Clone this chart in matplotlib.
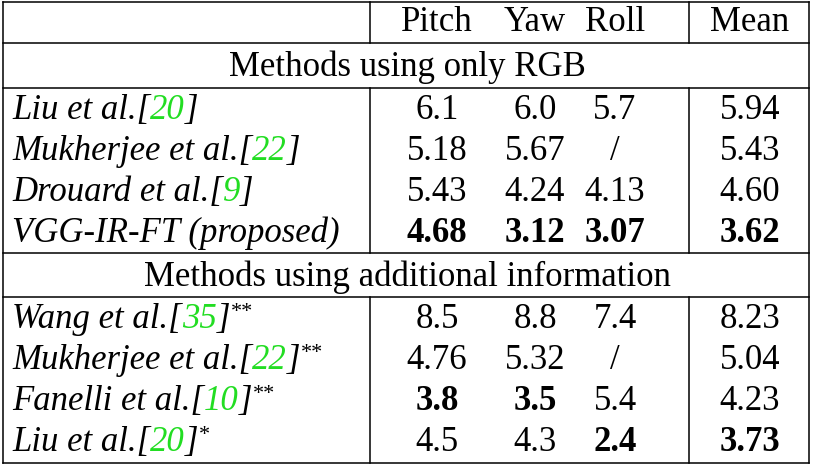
import matplotlib
matplotlib.use("Agg")
import matplotlib.pyplot as plt

columns = ["Pitch", "Yaw", "Roll", "Mean"]
section1 = "Methods using only RGB"
section2 = "Methods using additional information"
# name parts: (prefix, citation, suffix, superscript)
names1 = [("Liu et al.[", "20", "]", ""), ("Mukherjee et al.[", "22", "]", ""),
          ("Drouard et al.[", "9", "]", ""), ("VGG-IR-FT (proposed)", "", "", "")]
vals1 = [["6.1", "6.0", "5.7", "5.94"], ["5.18", "5.67", "/", "5.43"],
         ["5.43", "4.24", "4.13", "4.60"], ["4.68", "3.12", "3.07", "3.62"]]
bold1 = [[0,0,0,0],[0,0,0,0],[0,0,0,0],[1,1,1,1]]
names2 = [("Wang et al.[", "35", "]", "**"), ("Mukherjee et al.[", "22", "]", "**"),
          ("Fanelli et al.[", "10", "]", "**"), ("Liu et al.[", "20", "]", "*")]
vals2 = [["8.5", "8.8", "7.4", "8.23"], ["4.76", "5.32", "/", "5.04"],
         ["3.8", "3.5", "5.4", "4.23"], ["4.5", "4.3", "2.4", "3.73"]]
bold2 = [[0,0,0,0],[0,0,0,0],[1,1,0,0],[0,0,1,1]]

W, H = 814, 467
fig = plt.figure(figsize=(W/100, H/100), dpi=100)
ax = fig.add_axes([0, 0, 1, 1])
ax.set_xlim(0, W); ax.set_ylim(H, 0); ax.axis("off")
FS = 25
FAM = "Liberation Serif"
GREEN = "#22dd22"
lw = 1.1

def hl(y, x0=3, x1=809):
    ax.plot([x0, x1], [y, y], color="black", lw=lw)
def vl(x, y0, y1):
    ax.plot([x, x], [y0, y1], color="black", lw=lw)

for y in [2, 43, 88, 253, 297, 463]:
    hl(y)
vl(3, 2, 463); vl(809, 2, 463)
for (a, b) in [(2, 43), (88, 253), (297, 463)]:
    vl(370, a, b); vl(689, a, b)

colx = [437, 535, 615, 750]
for cx, c in zip(colx, columns):
    ax.text(cx, 31, c, ha="center", va="baseline", fontsize=FS, family=FAM)
ax.text(407, 76, section1, ha="center", va="baseline", fontsize=FS, family=FAM)
ax.text(407, 286, section2, ha="center", va="baseline", fontsize=FS, family=FAM)

fig.canvas.draw()
renderer = fig.canvas.get_renderer()
inv = ax.transData.inverted()

def seq(x, y, parts):
    for txt, kw in parts:
        if not txt:
            continue
        t = ax.text(x, y, txt, ha="left", va="baseline", family=FAM, **kw)
        bb = t.get_window_extent(renderer)
        x = inv.transform((bb.x1, 0))[0]
    return x

def rows(names, vals, bolds, ys):
    for (p, c, s, sup), v, b, y in zip(names, vals, bolds, ys):
        parts = [(p, dict(fontsize=FS, style="italic")),
                 (c, dict(fontsize=FS, style="italic", color=GREEN)),
                 (s, dict(fontsize=FS, style="italic"))]
        x = seq(12, y + 9, parts)
        if sup:
            ax.text(x + 1, y - 2, sup, ha="left", va="baseline", fontsize=16, family=FAM)
        for cx, val, bb in zip(colx, v, b):
            ax.text(cx, y + 9, val, ha="center", va="baseline", fontsize=FS,
                    family=FAM, weight="bold" if bb else "normal")

rows(names1, vals1, bold1, [110, 151, 192, 233])
rows(names2, vals2, bold2, [319, 360, 401, 442])

fig.savefig("out.png", dpi=100)
